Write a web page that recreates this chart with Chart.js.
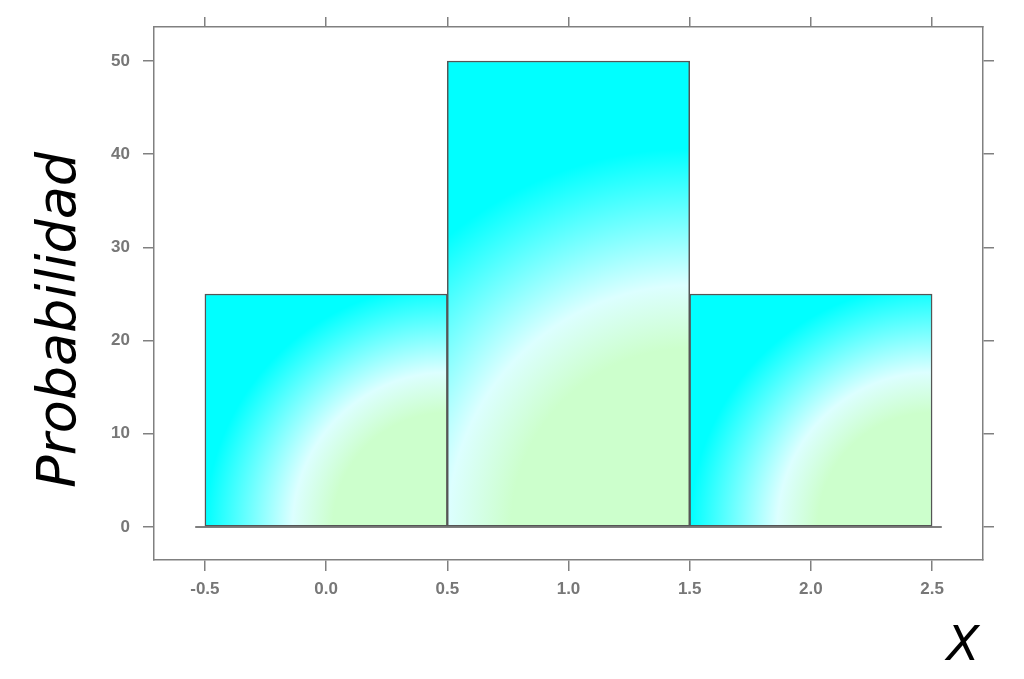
<!DOCTYPE html>
<html>
<head>
<meta charset="utf-8">
<script src="https://cdn.jsdelivr.net/npm/chart.js@4.4.1/dist/chart.umd.min.js"></script>
<style>
  html, body { margin: 0; padding: 0; background: #ffffff; }
  #wrap { width: 1024px; height: 679px; position: relative; }
</style>
</head>
<body>
<div id="wrap"><canvas id="c"></canvas></div>
<script>
// ---- data ----
const binEdges = [-0.5, 0.5, 1.5, 2.5];
const probabilities = [25, 50, 25];
const xTickValues = [-0.5, 0.0, 0.5, 1.0, 1.5, 2.0, 2.5];
const xTickLabels = ['-0.5', '0.0', '0.5', '1.0', '1.5', '2.0', '2.5'];
const yTickValues = [0, 10, 20, 30, 40, 50];
const yTickLabels = ['0', '10', '20', '30', '40', '50'];
const baselineX = [-0.54, 2.54];
const xRange = [-0.71, 2.71];
const yRange = [-3.54, 53.65];
const yTitle = 'Probabilidad';
const xTitle = 'X';

const binCenters = probabilities.map((_, i) => (binEdges[i] + binEdges[i + 1]) / 2);
const barData = probabilities.map((v, i) => ({ x: binCenters[i], y: v }));

const GREEN = '#ccffcc', PALE = '#dcffff', CYAN = '#00ffff';

function barFill(context) {
  const chart = context.chart;
  if (context.type !== 'data' || !chart.chartArea) return GREEN;
  const i = context.dataIndex;
  const xs = chart.scales.x, ys = chart.scales.y;
  const left = xs.getPixelForValue(binEdges[i]);
  const right = xs.getPixelForValue(binEdges[i + 1]);
  const top = ys.getPixelForValue(probabilities[i]);
  const bottom = ys.getPixelForValue(0);
  const r = Math.hypot(right - left, bottom - top);
  const g = chart.ctx.createRadialGradient(right, bottom, 0, right, bottom, r);
  g.addColorStop(0, GREEN);
  g.addColorStop(0.34, GREEN);
  g.addColorStop(0.46, PALE);
  g.addColorStop(0.72, CYAN);
  g.addColorStop(1, CYAN);
  return g;
}

// baseline (y = 0 reference line) drawn through the chart's scales
const baselinePlugin = {
  id: 'baseline',
  afterDatasetsDraw(chart) {
    const c = chart.ctx, xs = chart.scales.x, ys = chart.scales.y;
    const y0 = ys.getPixelForValue(0);
    c.save();
    c.strokeStyle = '#555555';
    c.lineWidth = 1.5;
    c.beginPath();
    c.moveTo(xs.getPixelForValue(baselineX[0]), y0);
    c.lineTo(xs.getPixelForValue(baselineX[1]), y0);
    c.stroke();
    c.restore();
  }
};

const titlePlugin = {
  id: 'titles',
  afterDraw(chart) {
    const c = chart.ctx;
    c.save();
    c.fillStyle = '#000';
    c.font = 'italic 54px "DejaVu Sans"';
    c.textAlign = 'center';
    c.textBaseline = 'alphabetic';
    c.translate(75, 320);
    c.rotate(-Math.PI / 2);
    c.fillText(yTitle, 0, 0);
    c.restore();
    c.save();
    c.fillStyle = '#000';
    c.font = 'italic 48px "DejaVu Sans"';
    c.textAlign = 'center';
    c.textBaseline = 'alphabetic';
    c.fillText(xTitle, 963, 660);
    c.restore();
  }
};

const AXIS = '#808080';
const TICKFONT = { family: '"Liberation Sans", Arial, sans-serif', size: 17, weight: 'bold' };
const TICKCOLOR = '#777777';

function setTicks(values) {
  return axis => { axis.ticks = values.map(v => ({ value: v })); };
}

new Chart(document.getElementById('c'), {
  type: 'bar',
  data: {
    datasets: [
      {
        xAxisID: 'xb',
        yAxisID: 'y',
        data: barData,
        backgroundColor: barFill,
        borderColor: '#555555',
        borderWidth: 1.5,
        borderSkipped: false,
        barPercentage: 1.0,
        categoryPercentage: 1.0
      }
    ]
  },
  options: {
    responsive: true,
    maintainAspectRatio: false,
    animation: false,
    events: [],
    layout: { padding: 0 },
    plugins: { legend: { display: false }, tooltip: { enabled: false } },
    scales: {
      xb: {
        type: 'linear', display: false, min: xRange[0], max: xRange[1],
        offset: false,
        afterBuildTicks: setTicks(binCenters),
        grid: { offset: false }
      },
      x: {
        type: 'linear', position: 'bottom', min: xRange[0], max: xRange[1],
        offset: false,
        afterBuildTicks: setTicks(xTickValues),
        afterFit: a => { a.height = 119; },
        ticks: { color: TICKCOLOR, font: TICKFONT, padding: 8, maxRotation: 0,
                 callback: (v) => xTickLabels[xTickValues.indexOf(v)] },
        grid: { display: true, offset: false, drawOnChartArea: false, drawTicks: true, tickLength: 11, color: AXIS, lineWidth: 1.5 },
        border: { display: true, color: AXIS, width: 1.5 }
      },
      x2: {
        type: 'linear', position: 'top', min: xRange[0], max: xRange[1],
        offset: false,
        afterBuildTicks: setTicks(xTickValues),
        afterFit: a => { a.height = 27; },
        ticks: { display: false },
        grid: { display: true, offset: false, drawOnChartArea: false, drawTicks: true, tickLength: 10, color: AXIS, lineWidth: 1.5 },
        border: { display: true, color: AXIS, width: 1.5 }
      },
      y: {
        type: 'linear', position: 'left', min: yRange[0], max: yRange[1],
        afterBuildTicks: setTicks(yTickValues),
        afterFit: a => { a.width = 154; },
        ticks: { color: TICKCOLOR, font: TICKFONT, padding: 13,
                 callback: (v) => yTickLabels[yTickValues.indexOf(v)] },
        grid: { display: true, drawOnChartArea: false, drawTicks: true, tickLength: 11, color: AXIS, lineWidth: 1.5 },
        border: { display: true, color: AXIS, width: 1.5 }
      },
      y2: {
        type: 'linear', position: 'right', min: yRange[0], max: yRange[1],
        afterBuildTicks: setTicks(yTickValues),
        afterFit: a => { a.width = 41; },
        ticks: { display: false },
        grid: { display: true, drawOnChartArea: false, drawTicks: true, tickLength: 11, color: AXIS, lineWidth: 1.5 },
        border: { display: true, color: AXIS, width: 1.5 }
      }
    }
  },
  plugins: [baselinePlugin, titlePlugin]
});
</script>
</body>
</html>
